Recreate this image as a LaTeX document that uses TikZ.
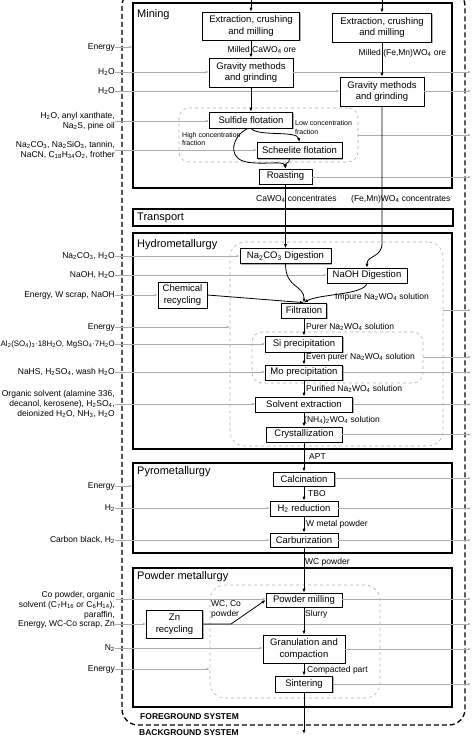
\documentclass[tikz,border=0pt]{standalone}
\usepackage{fontspec}
\setmainfont{Liberation Sans}
\usetikzlibrary{arrows.meta,shadows}
\newcommand{\sbs}[1]{\textsubscript{#1}}
\tikzset{
  sz/.style 2 args={minimum width=#1pt,minimum height=#2pt},
  fgbox/.style={draw,line width=1.3pt,dash pattern=on 5pt off 3pt,rounded corners=16pt,inner sep=0pt},
  stage/.style={draw,line width=1.5pt,fill=white,inner sep=0pt,drop shadow={shadow xshift=1.2pt,shadow yshift=-1.2pt,fill=gray!55,opacity=1}},
  stagelab/.style={anchor=west,inner sep=0pt,font=\fontsize{11}{13}\selectfont},
  grp/.style={draw=gray!60,dashed,line width=0.6pt,rounded corners=10pt,inner sep=0pt},
  proc/.style={draw,line width=0.7pt,fill=white,align=center,inner sep=1pt,font=\fontsize{9.5}{11.5}\selectfont,drop shadow={shadow xshift=1.2pt,shadow yshift=-1.2pt,fill=gray!60,opacity=1}},
  lab/.style={inner sep=0pt,anchor=west,align=left,font=\fontsize{8.5}{10}\selectfont},
  inlab/.style={anchor=east,inner sep=0pt,align=right,font=\fontsize{8.5}{10}\selectfont},
  small/.style={inner sep=0pt,align=left,anchor=west,font=\fontsize{7}{8.5}\selectfont},
  flow/.style={draw=gray!65,line width=0.6pt,-{Latex[length=3pt,width=2.4pt]}},
  main/.style={draw=black,line width=0.8pt,-{Latex[length=4pt,width=3.2pt]}},
  sysl/.style={anchor=west,inner sep=0pt,font=\fontsize{8.5}{10}\selectfont\bfseries}
}
\begin{document}
\begin{tikzpicture}[x=1pt,y=-1pt]
\useasboundingbox (0,0) rectangle (474,737);

% foreground system boundary
\node[fgbox,sz={343}{735}] (fg) at (293.5,357.5) {};

% stages
\node[stage,sz={319}{185}] (mining) at (292.5,95.5) {};
\node[stage,sz={320}{17}] (transport) at (293,217.5) {};
\node[stage,sz={319}{216}] (hydro) at (292.5,341) {};
\node[stage,sz={319}{90}] (pyro) at (292.5,508) {};
\node[stage,sz={319}{139}] (powder) at (292.5,637.5) {};
\node[stagelab] (lmining) at (137,15) {Mining};
\node[stagelab] (ltransport) at (137,218) {Transport};
\node[stagelab] (lhydro) at (137,245) {Hydrometallurgy};
\node[stagelab] (lpyro) at (137,472) {Pyrometallurgy};
\node[stagelab] (lpowder) at (137,577) {Powder metallurgy};

% groups
\node[grp,sz={179}{54}] (flotgrp) at (268.5,135) {};
\node[grp,sz={213}{204},rounded corners=15pt] (hydgrp) at (336.5,344) {};
\node[grp,sz={171}{51}] (simogrp) at (337.5,357.5) {};
\node[grp,sz={170}{113},rounded corners=15pt] (powgrp) at (295,641.5) {};

% processes
\node[proc,sz={97}{28}] (ext1) at (251,26) {Extraction, crushing\\and milling};
\node[proc,sz={99}{29}] (ext2) at (382,27.5) {Extraction, crushing\\and milling};
\node[proc,sz={84}{29}] (grav1) at (251,72.5) {Gravity methods\\and grinding};
\node[proc,sz={84}{29}] (grav2) at (382,91.5) {Gravity methods\\and grinding};
\node[proc,sz={83}{16}] (sulf) at (251,120) {Sulfide flotation};
\node[proc,sz={85}{16}] (schee) at (299.5,150.5) {Scheelite flotation};
\node[proc,sz={53}{15}] (roast) at (285.5,176.5) {Roasting};
\node[proc,sz={91}{15}] (na2dig) at (285.5,256) {Na\sbs{2}CO\sbs{3} Digestion};
\node[proc,sz={80}{15}] (naohdig) at (367,275.5) {NaOH Digestion};
\node[proc,sz={49}{26}] (chemrec) at (182.5,295) {Chemical\\recycling};
\node[proc,sz={45}{15}] (filt) at (304,310.5) {Filtration};
\node[proc,sz={77}{16}] (si) at (304,344) {Si precipitation};
\node[proc,sz={77}{15}] (mo) at (304,372.5) {Mo precipitation};
\node[proc,sz={97}{15}] (solv) at (304,404.5) {Solvent extraction};
\node[proc,sz={76}{15}] (cryst) at (304,434.5) {Crystallization};
\node[proc,sz={61}{14}] (calc) at (304,479) {Calcination};
\node[proc,sz={68}{15}] (h2red) at (304,508.5) {H\sbs{2} reduction};
\node[proc,sz={68}{14}] (carb) at (304,540) {Carburization};
\node[proc,sz={76}{14}] (milling) at (304,600) {Powder milling};
\node[proc,sz={82}{28}] (gran) at (304,649) {Granulation and\\compaction};
\node[proc,sz={57}{16}] (sint) at (304,684) {Sintering};
\node[proc,sz={56}{28}] (zn) at (174.5,624) {Zn\\recycling};

% flow labels
\node[lab] (lmilled1) at (227.5,50) {Milled CaWO\sbs{4} ore};
\node[lab] (lmilled2) at (358.5,53) {Milled (Fe,Mn)WO\sbs{4} ore};
\node[small] (llow) at (295,127.5) {Low concentration\\fraction};
\node[small] (lhigh) at (182,139) {High concentration\\fraction};
\node[lab] (lcaconc) at (256,199) {CaWO\sbs{4} concentrates};
\node[lab] (lfeconc) at (351,199) {(Fe,Mn)WO\sbs{4} concentrates};
\node[lab] (limpure) at (335,297) {Impure Na\sbs{2}WO\sbs{4} solution};
\node[lab] (lpurer) at (306,327) {Purer Na\sbs{2}WO\sbs{4} solution};
\node[lab] (leven) at (306,357) {Even purer Na\sbs{2}WO\sbs{4} solution};
\node[lab] (lpurified) at (306,389) {Purified Na\sbs{2}WO\sbs{4} solution};
\node[lab] (lnh4) at (304,420) {(NH\sbs{4})\sbs{2}WO\sbs{4} solution};
\node[lab] (lapt) at (309,457) {APT};
\node[lab] (ltbo) at (308,494) {TBO};
\node[lab] (lwmetal) at (306,524) {W metal powder};
\node[lab] (lwc) at (305,562) {WC powder};
\node[lab] (lslurry) at (305,614) {Slurry};
\node[lab] (lcomp) at (307,670) {Compacted part};
\node[lab] (lwcco) at (211,609) {WC, Co\\powder};
\node[sysl] (lfore) at (140,717) {FOREGROUND SYSTEM};
\node[sysl] (lback) at (139,733) {BACKGROUND SYSTEM};

% input labels
\node[inlab] (i1) at (115,47) {Energy};
\node[inlab] (i2) at (115,72) {H\sbs{2}O};
\node[inlab] (i3) at (115,91) {H\sbs{2}O};
\node[inlab] (i4) at (115,121) {H\sbs{2}O, anyl xanthate,\\Na\sbs{2}S, pine oil};
\node[inlab] (i5) at (115,150) {Na\sbs{2}CO\sbs{3}, Na\sbs{2}SiO\sbs{3}, tannin,\\NaCN, C\sbs{18}H\sbs{34}O\sbs{2}, frother};
\node[inlab] (i6) at (115,256) {Na\sbs{2}CO\sbs{3}, H\sbs{2}O};
\node[inlab] (i7) at (115,275) {NaOH, H\sbs{2}O};
\node[inlab] (i8) at (115,295) {Energy, W scrap, NaOH};
\node[inlab] (i9) at (115,327) {Energy};
\node[inlab,font=\fontsize{7.9}{9}\selectfont] (i10) at (115,344) {Al\sbs{2}(SO\sbs{4})\sbs{3}·18H\sbs{2}O, MgSO\sbs{4}·7H\sbs{2}O};
\node[inlab] (i11) at (115,372) {NaHS, H\sbs{2}SO\sbs{4}, wash H\sbs{2}O};
\node[inlab] (i12) at (115,404) {Organic solvent (alamine 336,\\decanol, kerosene), H\sbs{2}SO\sbs{4},\\deionized H\sbs{2}O, NH\sbs{3}, H\sbs{2}O};
\node[inlab] (i13) at (115,486) {Energy};
\node[inlab] (i14) at (115,508) {H\sbs{2}};
\node[inlab] (i15) at (115,540) {Carbon black, H\sbs{2}};
\node[inlab] (i16) at (115,605) {Co powder, organic\\solvent (C\sbs{7}H\sbs{16} or C\sbs{6}H\sbs{14}),\\paraffin,};
\node[inlab] (i17) at (115,624) {Energy, WC-Co scrap, Zn};
\node[inlab] (i18) at (115,648) {N\sbs{2}};
\node[inlab] (i19) at (115,669) {Energy};
\coordinate (i16s) at (116,599);

% inputs
\draw[flow] (i1.east) -- (i1.east -| mining.west);
\draw[flow] (i2.east) -- (i2.east -| grav1.west);
\draw[flow] (i3.east) -- (i3.east -| grav2.west);
\draw[flow] (i4.east) -- (i4.east -| sulf.west);
\draw[flow] (i5.east) -- (i5.east -| schee.west);
\draw[flow] (i6.east) -- (i6.east -| na2dig.west);
\draw[flow] (i7.east) -- (i7.east -| naohdig.west);
\draw[flow] (i8.east) -- (i8.east -| chemrec.west);
\draw[flow] (i9.east) -- (i9.east -| hydgrp.west);
\draw[flow] (i10.east) -- (i10.east -| si.west);
\draw[flow] (i11.east) -- (i11.east -| mo.west);
\draw[flow] (i12.east) -- (i12.east -| solv.west);
\draw[flow] (i13.east) -- (i13.east -| pyro.west);
\draw[flow] (i14.east) -- (i14.east -| h2red.west);
\draw[flow] (i15.east) -- (i15.east -| carb.west);
\draw[flow] (i16s) -- (i16s -| milling.west);
\draw[flow] (i17.east) -- (i17.east -| zn.west);
\draw[flow] (i18.east) -- (i18.east -| gran.west);
\draw[flow] (i19.east) -- (i19.east -| powgrp.west);

% outputs
\coordinate (o1) at (471,72);
\coordinate (o2) at (471,91);
\coordinate (o3) at (471,135);
\coordinate (o4) at (471,177);
\coordinate (o5) at (471,310);
\coordinate (o6) at (471,357);
\coordinate (o7) at (471,372.5);
\coordinate (o8) at (471,404.5);
\coordinate (o9) at (471,434.5);
\coordinate (o10) at (471,478);
\coordinate (o11) at (471,508.5);
\coordinate (o12) at (471,540);
\coordinate (o13) at (471,599);
\coordinate (o14) at (471,624);
\coordinate (o15) at (471,649);
\coordinate (o16) at (471,684);
\draw[flow] (o1 -| grav1.east) -- (o1);
\draw[flow] (o2 -| grav2.east) -- (o2);
\draw[flow] (o3 -| flotgrp.east) -- (o3);
\draw[flow] (o4 -| roast.east) -- (o4);
\draw[flow] (o5 -| hydgrp.east) -- (o5);
\draw[flow] (o6 -| simogrp.east) -- (o6);
\draw[flow] (o7 -| mo.east) -- (o7);
\draw[flow] (o8 -| solv.east) -- (o8);
\draw[flow] (o9 -| cryst.east) -- (o9);
\draw[flow] (o10 -| calc.east) -- (o10);
\draw[flow] (o11 -| h2red.east) -- (o11);
\draw[flow] (o12 -| carb.east) -- (o12);
\draw[flow] (o13 -| milling.east) -- (o13);
\draw[flow] (zn.east) -- (o14);
\draw[flow] (o15 -| gran.east) -- (o15);
\draw[flow] (o16 -| sint.east) -- (o16);

% main flows
\coordinate (top1) at (251,0);
\coordinate (top2) at (382,0);
\coordinate (bend2) at (382,243);
\coordinate (bottomc) at (304,734);
\coordinate (zbend) at (231,624);
\draw[main] (top1) -- (ext1.north);
\draw[main] (top2) -- (ext2.north);
\draw[main] (ext1.south) -- (grav1.north);
\draw[main] (ext2.south) -- (grav2.north);
\draw[main] (grav1.south) -- (sulf.north);
\draw[main] (sulf.south) .. controls (258,137) and (297,130) .. (schee.north);
\draw[main] ([xshift=-3pt]sulf.south) .. controls (232,136) and (228,156) .. (243,161) .. controls (258,166) and (284,160) .. (roast.north);
\draw[main] ([xshift=-10pt]schee.south) .. controls (289.5,164) and (285.5,162) .. (roast.north);
\draw[main] (roast.south) -- (na2dig.north);
\draw[main] (grav2.south) -- (bend2) .. controls (382,258) and (367,255) .. (naohdig.north);
\draw[main] (na2dig.south) .. controls (285.5,289) and (304,284) .. (filt.north);
\draw[main] (naohdig.south) .. controls (364,295) and (318,294) .. (filt.north);
\draw[main] (chemrec.east) -- (filt.north);
\draw[main] (filt.south) -- (si.north);
\draw[main] (si.south) -- (mo.north);
\draw[main] (mo.south) -- (solv.north);
\draw[main] (solv.south) -- (cryst.north);
\draw[main] (cryst.south) -- (calc.north);
\draw[main] (calc.south) -- (h2red.north);
\draw[main] (h2red.south) -- (carb.north);
\draw[main] (carb.south) -- (milling.north);
\draw[main] (milling.south) -- (gran.north);
\draw[main] (gran.south) -- (sint.north);
\draw[main] (sint.south) -- (bottomc);
\draw[main] (zn.east) -- (zbend) -- (milling.west);
\end{tikzpicture}
\end{document}
